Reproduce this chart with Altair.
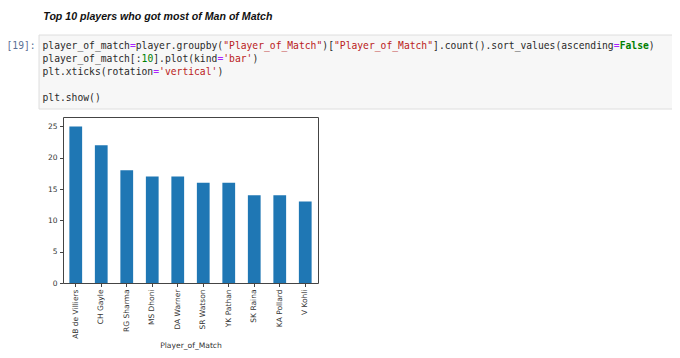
import altair as alt
import pandas as pd

# ---- data ----
players = ["AB de Villiers", "CH Gayle", "RG Sharma", "MS Dhoni", "DA Warner",
           "SR Watson", "YK Pathan", "SK Raina", "KA Pollard", "V Kohli"]
counts = [25, 22, 18, 17, 17, 16, 16, 14, 14, 13]

heading = ["Top 10 players who got most of Man of Match"]
prompt = ["[19]:"]

# code tokens: (text, style)
code_line_1 = [("player_of_match", "txt"), ("=", "op"), ("player.groupby(", "txt"),
               ('"Player_of_Match"', "str"), (")[", "txt"), ('"Player_of_Match"', "str"),
               ("].count().sort_values(ascending", "txt"), ("=", "op"), ("False", "kw"), (")", "txt")]
code_line_2 = [("player_of_match[:", "txt"), ("10", "num"), ("].plot(kind", "txt"),
               ("=", "op"), ("'bar'", "str"), (")", "txt")]
code_line_3 = [("plt.xticks(rotation", "txt"), ("=", "op"), ("'vertical'", "str"), (")", "txt")]
code_line_5 = [("plt.show()", "txt")]

# ---- layout helpers ----
CW = 5.83           # monospace char advance
X0 = -20.5          # code start relative to plot origin
line_y = {1: -71, 2: -58, 3: -45, 5: -19}
style_color = {"txt": "#2a2a2a", "op": "#AA22FF", "str": "#BA2121",
               "kw": "#008000", "num": "#008000"}

rows = []
for ln, toks in [(1, code_line_1), (2, code_line_2), (3, code_line_3), (5, code_line_5)]:
    col = 0
    for t, s in toks:
        rows.append({"tok": t, "style": s, "px": X0 + col * CW, "py": line_y[ln]})
        col += len(t)
code_df = pd.DataFrame(rows)

bars_df = pd.DataFrame({"Player_of_Match": players, "count": counts})

bars = alt.Chart(bars_df).mark_bar(color="#1f77b4").encode(
    x=alt.X("Player_of_Match:N", sort=players,
            scale=alt.Scale(paddingInner=0.5, paddingOuter=0.25),
            axis=alt.Axis(title="Player_of_Match", labelAngle=-90, domain=False,
                          tickColor="#444", tickSize=3.5, labelPadding=2.5,
                          labelFont="DejaVu Sans", labelFontSize=7.5, labelColor="#333",
                          titleFont="DejaVu Sans", titleFontSize=7.6, titleFontWeight="normal",
                          titleColor="#333", titlePadding=3)),
    y=alt.Y("count:Q", scale=alt.Scale(domain=[0, 26.5], nice=False),
            axis=alt.Axis(title=None, values=[0, 5, 10, 15, 20, 25], domain=False, grid=False,
                          tickColor="#444", tickSize=3.5, labelPadding=2.5,
                          labelFont="DejaVu Sans", labelFontSize=7.5, labelColor="#333")),
)

one = pd.DataFrame({"heading": heading, "prompt": prompt})

box = alt.Chart(one).mark_rect(fill="#f7f7f7", stroke="#dedede", strokeWidth=1).encode(
    x=alt.value(-24), x2=alt.value(613), y=alt.value(-82), y2=alt.value(-8))

title_txt = alt.Chart(one).mark_text(
    align="left", baseline="alphabetic", font="Liberation Sans", fontSize=10.6,
    fontWeight="bold", fontStyle="italic", color="#111"
).encode(x=alt.value(-19.7), y=alt.value(-97.5), text="heading:N")

prompt_txt = alt.Chart(one).mark_text(
    align="left", baseline="middle", font="DejaVu Sans Mono", fontSize=9.68, color="#5b6f95"
).encode(x=alt.value(-56.5), y=alt.value(-71), text="prompt:N")


def code_layer(bold):
    base = alt.Chart(code_df).transform_filter(
        alt.datum.style == "kw" if bold else alt.datum.style != "kw")
    return base.mark_text(
        align="left", baseline="middle", font="DejaVu Sans Mono", fontSize=9.68,
        fontWeight="bold" if bold else "normal"
    ).encode(
        x=alt.X("px:Q", scale=None, axis=None),
        y=alt.Y("py:Q", scale=None, axis=None),
        text="tok:N",
        color=alt.Color("style:N", scale=alt.Scale(domain=list(style_color.keys()),
                                                    range=list(style_color.values())),
                        legend=None),
    )


chart = alt.layer(bars, box, title_txt, prompt_txt, code_layer(False), code_layer(True)).resolve_scale(
    x="independent", y="independent"
).properties(
    width=255, height=166,
    autosize=alt.AutoSizeParams(type="none"),
    padding={"left": 55, "top": 109, "right": 354, "bottom": 67},
    background="white",
).configure_view(stroke="#444", strokeWidth=1)

chart.save("out.html", embed_options={"renderer": "svg", "actions": False})
